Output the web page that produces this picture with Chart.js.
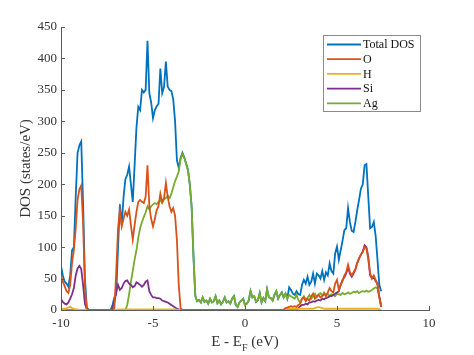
<!DOCTYPE html>
<html><head><meta charset="utf-8">
<script src="https://cdn.jsdelivr.net/npm/chart.js@4/dist/chart.umd.min.js"></script>
<style>html,body{margin:0;padding:0;background:#fff}</style>
</head><body>
<canvas id="c" width="474" height="355"></canvas>
<script>
// ---- data ----
const energy = [
-10.0,-9.9,-9.8,-9.7,-9.6,-9.5,-9.4,-9.3,-9.2,-9.1,
-9.0,-8.9,-8.8,-8.7,-8.6,-8.5,-8.4,-8.3,-8.2,-8.1,
-8.0,-7.9,-7.8,-7.7,-7.6,-7.5,-7.4,-7.3,-7.2,-7.1,
-7.0,-6.9,-6.8,-6.7,-6.6,-6.5,-6.4,-6.3,-6.2,-6.1,
-6.0,-5.9,-5.8,-5.7,-5.6,-5.5,-5.4,-5.3,-5.2,-5.1,
-5.0,-4.9,-4.8,-4.7,-4.6,-4.5,-4.4,-4.3,-4.2,-4.1,
-4.0,-3.9,-3.8,-3.7,-3.6,-3.5,-3.4,-3.3,-3.2,-3.1,
-3.0,-2.9,-2.8,-2.7,-2.6,-2.5,-2.4,-2.3,-2.2,-2.1,
-2.0,-1.9,-1.8,-1.7,-1.6,-1.5,-1.4,-1.3,-1.2,-1.1,
-1.0,-0.9,-0.8,-0.7,-0.6,-0.5,-0.4,-0.3,-0.2,-0.1,
0.0,0.1,0.2,0.3,0.4,0.5,0.6,0.7,0.8,0.9,
1.0,1.1,1.2,1.3,1.4,1.5,1.6,1.7,1.8,1.9,
2.0,2.1,2.2,2.3,2.4,2.5,2.6,2.7,2.8,2.9,
3.0,3.1,3.2,3.3,3.4,3.5,3.6,3.7,3.8,3.9,
4.0,4.1,4.2,4.3,4.4,4.5,4.6,4.7,4.8,4.9,
5.0,5.1,5.2,5.3,5.4,5.5,5.6,5.7,5.8,5.9,
6.0,6.1,6.2,6.3,6.4,6.5,6.6,6.7,6.8,6.9,
7.0,7.1,7.2,7.3,7.4];

const totalDOS = [
70,55,45,42,37,55,95,100,180,250,
262,268,170,50,5,0,0,0,0,0,
0,0,0,0,0,0,0,0,8,20,
25,100,168,135,180,208,215,228,200,172,
230,290,323,318,350,346,350,428,345,330,
305,318,324,328,384,345,355,395,355,350,
348,335,300,238,226,242,250,243,233,223,
200,164,85,22,14,16,12,20,13,15,
10,18,12,14,22,11,15,9,13,20,
12,14,10,18,22,8,5,12,15,18,
8,10,15,30,20,22,13,16,27,12,
19,14,33,20,19,15,24,30,18,24,
28,20,26,18,36,32,26,24,30,25,
24,40,48,42,53,40,45,58,42,58,
55,50,62,48,60,55,74,62,58,90,
101,80,95,110,127,130,162,140,126,124,
140,159,175,193,200,230,232,180,130,132,
140,118,80,40,30];

const dosO = [
55,45,38,30,27,40,75,95,130,175,
192,198,140,35,3,0,0,0,0,0,
0,0,0,0,0,0,0,0,0,3,
60,130,158,133,145,156,150,160,135,112,
135,156,172,175,172,170,180,230,165,145,
133,145,159,165,185,172,178,202,180,165,
156,162,150,111,40,3,0,0,0,0,
0,0,0,0,0,0,0,0,0,0,
0,0,0,0,0,0,0,0,0,0,
0,0,0,0,0,0,0,0,0,0,
0,0,0,0,0,0,0,0,0,0,
0,0,0,0,0,0,0,0,0,0,
0,0,3,4,5,6,5,6,5,8,
10,18,20,14,18,15,22,26,18,22,
24,20,22,26,22,28,35,30,28,42,
48,32,40,46,55,60,72,60,55,60,
65,75,82,88,92,100,98,80,58,50,
55,48,40,20,5];

const dosH = [
1,2,2,3,4,5,3,2,1,1,
0,0,0,0,0,0,0,0,0,0,
0,0,0,0,0,0,0,0,0,0,
0,1,1,1,1,1,1,1,1,1,
1,1,1,1,1,1,1,1,1,1,
1,1,1,1,1,1,1,1,1,1,
1,1,1,0,0,0,0,0,0,0,
0,0,0,0,0,0,0,0,0,0,
0,0,0,0,0,0,0,0,0,0,
0,0,0,0,0,0,0,0,0,0,
0,0,0,0,0,0,0,0,0,0,
0,0,0,0,0,0,0,0,0,0,
0,0,1,2,2,2,2,2,2,2,
2,2,2,2,2,2,2,2,3,4,
5,4,3,2,2,2,2,2,2,2,
2,2,2,2,2,2,2,2,2,2,
2,2,2,2,2,2,2,2,2,2,
2,2,2,1,0];

const dosSi = [
17,13,10,9,12,18,25,35,55,66,
70,65,40,10,1,0,0,0,0,0,
0,0,0,0,0,0,0,0,3,12,
28,40,32,35,42,46,47,42,40,36,
38,44,42,40,37,40,45,47,30,24,
20,20,19,19,18,15,14,13,12,10,
8,6,4,2,1,0,0,0,0,0,
0,0,0,0,0,0,0,0,0,0,
0,0,0,0,0,0,0,0,0,0,
0,0,0,0,0,0,0,0,0,0,
0,0,0,0,0,0,0,0,0,0,
0,0,0,0,0,0,0,0,0,0,
0,0,0,0,0,0,0,0,0,3,
6,8,8,10,9,12,12,14,13,15,
16,15,18,17,19,20,22,22,24,26,
28,30,40,48,52,58,68,58,53,58,
64,75,82,88,93,103,100,85,55,50,
52,46,42,22,5];

const dosAg = [
0,0,0,0,0,0,0,0,0,0,
0,0,0,0,0,0,0,0,0,0,
0,0,0,0,0,0,0,0,0,0,
0,0,0,0,0,0,8,25,45,62,
80,95,115,130,140,148,155,165,160,165,
168,170,168,172,175,170,176,178,182,178,
185,195,205,212,220,240,248,242,232,222,
200,164,85,22,14,16,12,20,13,15,
10,18,12,14,22,11,15,9,13,20,
12,14,10,18,22,8,5,12,15,18,
8,10,15,30,20,22,13,16,27,12,
19,14,33,20,19,15,24,30,18,24,
28,20,26,18,24,22,20,18,24,16,
12,18,22,16,20,24,18,22,26,20,
25,27,22,28,24,26,22,25,24,22,
26,25,24,27,25,26,28,26,27,29,
28,30,27,29,30,29,31,29,30,32,
34,36,34,20,8];

const seriesLabels = ['Total DOS', 'O', 'H', 'Si', 'Ag'];
const xTicks = [-10, -5, 0, 5, 10];
const yTicks = [0, 50, 100, 150, 200, 250, 300, 350, 400, 450];

// ---- styling ----
const colors = ['#0072BD', '#D95319', '#EDB120', '#7E2F8E', '#77AC30'];
const drawOrder = [5, 1, 2, 3, 4];
const series = [totalDOS, dosO, dosH, dosSi, dosAg];
const SERIF = "'Liberation Serif', 'Times New Roman', serif";
const AXIS = '#5a5a5a';
const TEXT = '#333333';

const decor = {
  id: 'decor',
  afterDraw(chart) {
    const c = chart.ctx, a = chart.chartArea;
    const xs = chart.scales.x, ys = chart.scales.y;
    c.save();
    // inward tick marks
    c.strokeStyle = AXIS; c.lineWidth = 1;
    c.beginPath();
    xTicks.forEach(v => { const p = Math.round(xs.getPixelForValue(v)) + 0.5; c.moveTo(p, a.bottom); c.lineTo(p, a.bottom - 4); });
    yTicks.forEach(v => { const p = Math.round(ys.getPixelForValue(v)) + 0.5; c.moveTo(a.left, p); c.lineTo(a.left + 4, p); });
    c.stroke();
    // axis titles
    c.fillStyle = TEXT;
    c.font = '15px ' + SERIF;
    const t1 = 'E - E', t2 = 'F', t3 = ' (eV)';
    const w1 = c.measureText(t1).width, w3 = c.measureText(t3).width;
    c.font = '10px ' + SERIF;
    const w2 = c.measureText(t2).width;
    let x0 = (a.left + a.right) / 2 - (w1 + w2 + w3) / 2;
    c.textBaseline = 'alphabetic'; c.textAlign = 'left';
    c.font = '15px ' + SERIF; c.fillText(t1, x0, 346);
    c.font = '10px ' + SERIF; c.fillText(t2, x0 + w1, 351);
    c.font = '15px ' + SERIF; c.fillText(t3, x0 + w1 + w2, 346);
    c.save();
    c.translate(26, (a.top + a.bottom) / 2);
    c.rotate(-Math.PI / 2);
    c.textAlign = 'center'; c.textBaseline = 'middle';
    c.fillText('DOS (states/eV)', 0, 0);
    c.restore();
    // legend
    const bx = 323.5, by = 35.5, bw = 97, bh = 76;
    c.fillStyle = '#fff'; c.fillRect(bx, by, bw, bh);
    c.strokeStyle = '#8a8a8a'; c.lineWidth = 1; c.strokeRect(bx, by, bw, bh);
    c.font = '12px ' + SERIF; c.textAlign = 'left'; c.textBaseline = 'middle';
    chart.data.datasets.forEach((d, i) => {
      const y = 44.5 + i * 14.7;
      c.strokeStyle = d.borderColor; c.lineWidth = 1.8;
      c.beginPath(); c.moveTo(327, y); c.lineTo(361, y); c.stroke();
      c.fillStyle = '#111'; c.fillText(d.label, 363, y + 0.5);
    });
    c.restore();
  }
};

new Chart(document.getElementById('c'), {
  type: 'line',
  data: {
    datasets: series.map((s, k) => ({
      label: seriesLabels[k],
      data: energy.map((e, i) => ({ x: e, y: s[i] })),
      borderColor: colors[k],
      backgroundColor: colors[k],
      borderWidth: 1.8,
      pointRadius: 0,
      tension: 0,
      fill: false,
      order: drawOrder[k]
    }))
  },
  options: {
    responsive: false,
    animation: false,
    devicePixelRatio: 1,
    layout: { padding: { left: 0, right: 45, top: 27, bottom: 0 } },
    plugins: { legend: { display: false }, tooltip: { enabled: false } },
    scales: {
      x: {
        type: 'linear', min: -10, max: 10,
        afterBuildTicks: s => { s.ticks = xTicks.map(v => ({ value: v })); },
        afterFit: s => { s.height = 45; },
        grid: { display: false, drawTicks: false },
        border: { display: true, color: AXIS, width: 1 },
        ticks: { color: TEXT, padding: 6, maxRotation: 0, font: { family: SERIF, size: 13 } }
      },
      y: {
        min: 0, max: 450,
        afterBuildTicks: s => { s.ticks = yTicks.map(v => ({ value: v })); },
        afterFit: s => { s.width = 61; },
        grid: { display: false, drawTicks: false },
        border: { display: true, color: AXIS, width: 1 },
        ticks: { color: TEXT, padding: 4, font: { family: SERIF, size: 13 } }
      }
    }
  },
  plugins: [decor]
});
</script>
</body></html>
